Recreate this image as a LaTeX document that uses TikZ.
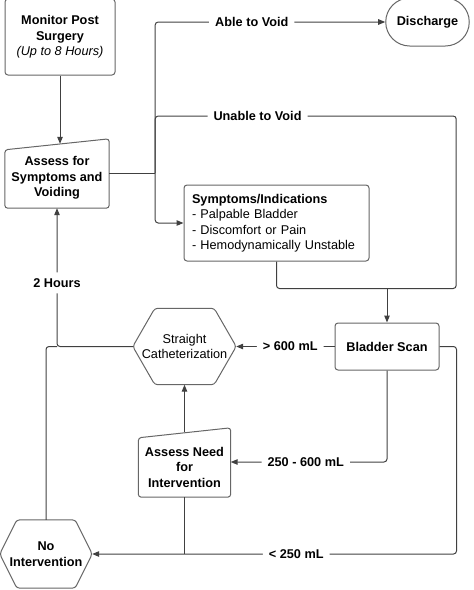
\documentclass[tikz,border=0pt]{standalone}
\usepackage{fontspec}
\setmainfont{Liberation Sans}
\usetikzlibrary{shapes.misc,arrows.meta}

\tikzstyle{proc} = [draw=black!60, line width=1pt, rounded corners=3pt,%
                    align=center, font=\bfseries, anchor=center]
\tikzstyle{inp} = [align=center, font=\bfseries, minimum height=60pt, anchor=center]
\tikzstyle{hexa} = [align=center, inner sep=0pt, anchor=center]
\tikzstyle{outline} = [draw=black!60, line width=1pt, rounded corners=3pt]
\tikzstyle{stopnode} = [draw=black!60, line width=1pt, rounded rectangle, font=\bfseries, anchor=center]
\tikzstyle{lab} = [fill=white, font=\bfseries, inner sep=6pt]
\tikzstyle{line} = [draw=black!75, line width=1pt, rounded corners=3pt]

\begin{document}
\fontsize{12.7}{15.5}\selectfont
\begin{tikzpicture}[x=1pt, y=1pt, node distance=100pt, >={Triangle[length=7pt,width=5.5pt]}]

	\useasboundingbox (0,0) rectangle (474,-590);

	\node (monitor) [proc, minimum width=110pt, minimum height=76pt] at (60,-37) {Monitor Post\\Surgery\\\textmd{\textit{(Up to 8 Hours)}}};
	\node (assess) [inp, minimum width=104pt, below of=monitor, node distance=141pt, xshift=-3pt] {Assess for\\Symptoms and\\Voiding};
	\node (discharge) [stopnode, minimum width=92pt, minimum height=48pt, right of=monitor, node distance=367.5pt, yshift=15pt] {Discharge};
	\node (sympt) [proc, font=\mdseries, align=left, text width=169pt, inner sep=8pt, minimum height=76pt,%
	               right of=assess, node distance=219.5pt, yshift=-45pt]
	      {\textbf{Symptoms/Indications}\\- Palpable Bladder\\- Discomfort or Pain\\- Hemodynamically Unstable};
	\node (scan) [proc, minimum width=104pt, minimum height=47pt, below of=sympt, node distance=123.5pt, xshift=110.5pt] {Bladder Scan};
	\node (cath) [hexa, minimum width=103pt, minimum height=76pt, left of=scan, node distance=202.5pt] {Straight\\Catheterization};
	\node (need) [inp, minimum width=92pt, below of=cath, node distance=120.5pt] {Assess Need\\for\\Intervention};
	\node (noint) [hexa, font=\bfseries, minimum width=92pt, minimum height=68pt, left of=need, node distance=138.5pt, yshift=-87pt] {No\\Intervention};

	% slanted tops
	\draw[outline] (assess.south west) -- ([yshift=-2pt]assess.north west) -- ([yshift=9pt]assess.north east) -- (assess.south east) -- cycle;
	\draw[outline] (need.south west) -- ([yshift=-1pt]need.north west) -- ([yshift=9pt]need.north east) -- (need.south east) -- cycle;
	% hexagons
	\draw[outline] (cath.west) -- ([xshift=22pt]cath.north west) -- ([xshift=-22pt]cath.north east) -- (cath.east)%
	               -- ([xshift=-22pt]cath.south east) -- ([xshift=22pt]cath.south west) -- cycle;
	\draw[outline] (noint.west) -- ([xshift=17pt]noint.north west) -- ([xshift=-17pt]noint.north east) -- (noint.east)%
	               -- ([xshift=-17pt]noint.south east) -- ([xshift=17pt]noint.south west) -- cycle;

	\coordinate (split) at ([xshift=46pt,yshift=5pt]assess.east);
	\coordinate (merge) at ([yshift=34pt]scan.north);
	\coordinate (loop) at (cath.west -| assess.south);

	\draw[line,->,shorten >=4pt] (monitor.south) -- (monitor.south |- assess.north);
	\draw[line] ([yshift=5pt]assess.east) -- (split);
	\draw[line,->] (split) |- node[lab, pos=0.71] {Able to Void} (discharge.west);
	\draw[line] (split) |- node[lab, pos=0.67] {Unable to Void} ++(301,57) |- (merge);
	\draw[line,->] (split) |- (sympt.west);
	\draw[line] (sympt.south) |- (merge);
	\draw[line,->] (merge) -- (scan.north);

	\draw[line,->] (scan.west) -- node[lab, pos=0.45] {> 600 mL} (cath.east);
	\draw[line,->] (scan.south) |- node[lab, pos=0.76] {250 - 600 mL} ([yshift=5pt]need.east);
	\draw[line,->] (scan.east) -- ++(17,0) |- node[lab, pos=0.72] {< 250 mL} (noint.east);

	\draw[line,->] ([yshift=4.5pt]need.north) -- (cath.south);
	\draw[line] (need.south) -- (need.south |- noint.east);

	\draw[line,->] (cath.west) -- (loop) -- node[lab, pos=0.46] {2 Hours} (assess.south);
	\draw[line] (noint.north) |- (loop);
\end{tikzpicture}
\end{document}
